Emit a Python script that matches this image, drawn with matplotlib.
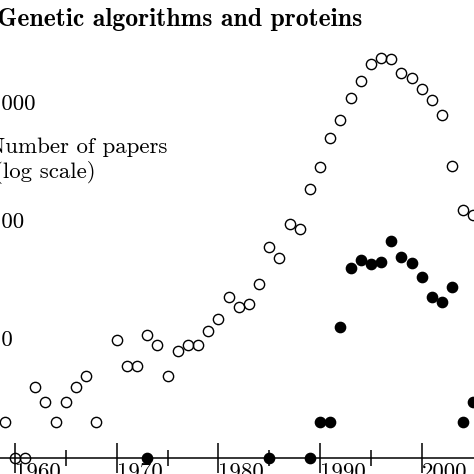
import matplotlib
matplotlib.use("Agg")
import matplotlib.pyplot as plt
from matplotlib.ticker import FixedLocator, NullLocator

# all genetic-algorithm papers per year (open circles)
years_all = [1959, 1960, 1961, 1962, 1963, 1964, 1965, 1966, 1967, 1968,
             1970, 1971, 1972, 1973, 1974, 1975, 1976, 1977, 1978, 1979,
             1980, 1981, 1982, 1983, 1984, 1985, 1986, 1987, 1988, 1989,
             1990, 1991, 1992, 1993, 1994, 1995, 1996, 1997, 1998, 1999,
             2000, 2001, 2002, 2003, 2004, 2005]
papers_all = [2, 1, 1, 4, 3, 2, 3, 4, 5, 2,
              10, 6, 6, 11, 9, 5, 8, 9, 9, 12,
              15, 23, 19, 20, 30, 61, 50, 96, 87, 190,
              292, 515, 731, 1126, 1567, 2185, 2454, 2400, 1830, 1660,
              1340, 1080, 800, 298, 126, 114]

# papers on genetic algorithms and proteins (filled circles)
years_prot = [1973, 1985, 1989, 1990, 1991, 1992, 1993, 1994, 1995, 1996,
              1997, 1998, 1999, 2000, 2001, 2002, 2003, 2004, 2005]
papers_prot = [1, 1, 1, 2, 2, 13, 41, 48, 44, 46,
               69, 51, 45, 34, 23, 21, 28, 2, 3]

major_years = [1960, 1970, 1980, 1990, 2000]
minor_years = [1965, 1975, 1985, 1995]
ytick_vals = [10, 100, 1000]
ytick_labels = ["10", "100", "1000"]

W = 474
fig = plt.figure(figsize=(4.74, 4.74), dpi=100)
ax = fig.add_axes([0, 0, 1, 1])
ax.set_yscale("log")
ax.set_xlim(1958.53, 2005.13)
ax.set_ylim(0.732, 7607)

ax.plot(years_all, papers_all, "o", ms=7.4, mfc="none", mec="black", mew=1.0, zorder=3)
ax.plot(years_prot, papers_prot, "o", ms=7.4, mfc="black", mec="black", mew=1.0, zorder=3)

for s in ["left", "right", "top"]:
    ax.spines[s].set_visible(False)
ax.spines["bottom"].set_position(("data", 1))
ax.spines["bottom"].set_linewidth(1.1)

ax.xaxis.set_major_locator(FixedLocator(major_years))
ax.xaxis.set_minor_locator(FixedLocator(minor_years))
ax.set_xticklabels([str(y) for y in major_years], fontfamily="cmr10", fontsize=16.5)
for lab in ax.get_xticklabels():
    lab.set_horizontalalignment("left")
ax.tick_params(axis="x", which="major", direction="inout", length=21.6, width=1.1, pad=-7.9)
ax.tick_params(axis="x", which="minor", direction="inout", length=12, width=1.1)

ax.yaxis.set_major_locator(FixedLocator(ytick_vals))
ax.yaxis.set_minor_locator(NullLocator())
ax.set_yticklabels(ytick_labels, fontfamily="cmr10", fontsize=16.5)
for lab in ax.get_yticklabels():
    lab.set_horizontalalignment("left")
    lab.set_verticalalignment("center")
ax.tick_params(axis="y", length=0, pad=7.2)

fig.text(-3 / W, 1 - 26 / W, "Genetic algorithms and proteins", fontfamily="cmb10",
         fontsize=18.5, ha="left", va="baseline")
fig.text(-12 / W, 1 - 153 / W, "Number of papers", fontfamily="cmr10",
         fontsize=16.5, ha="left", va="baseline")
fig.text(-6 / W, 1 - 178 / W, "(log scale)", fontfamily="cmr10",
         fontsize=16.5, ha="left", va="baseline")

fig.savefig("out.png", dpi=100)
